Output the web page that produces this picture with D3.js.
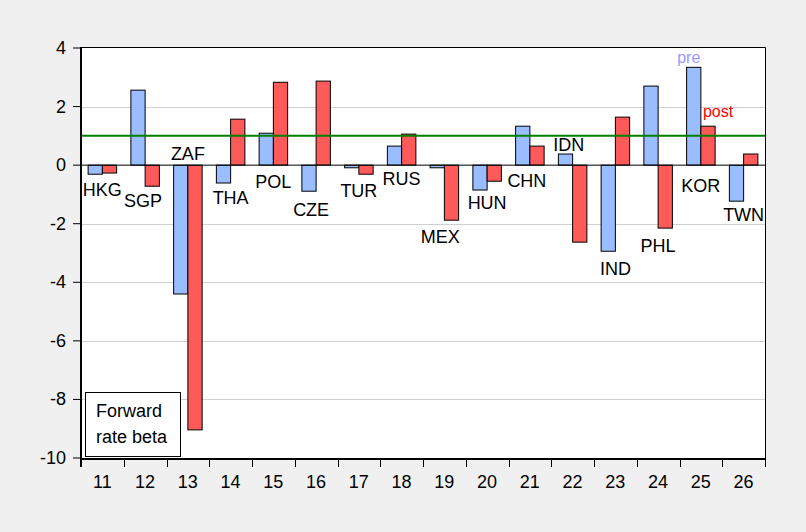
<!DOCTYPE html>
<html>
<head>
<meta charset="utf-8">
<script src="https://cdn.jsdelivr.net/npm/d3@7"></script>
<style>
  body { margin: 0; background: #f0f0f0; }
  svg { display: block; font-family: 'Liberation Sans', Arial, sans-serif; }
</style>
</head>
<body>
<div id="chart"></div>
<script>
const WIDTH = 806
const HEIGHT = 532

const periods = ['11', '12', '13', '14', '15', '16', '17', '18', '19', '20', '21', '22', '23', '24', '25', '26']
const countries = ['HKG', 'SGP', 'ZAF', 'THA', 'POL', 'CZE', 'TUR', 'RUS', 'MEX', 'HUN', 'CHN', 'IDN', 'IND', 'PHL', 'KOR', 'TWN']
const pre = [-0.31, 2.56, -4.40, -0.61, 1.09, -0.89, -0.09, 0.65, -0.09, -0.85, 1.33, 0.38, -2.94, 2.70, 3.34, -1.23]
const post = [-0.27, -0.72, -9.04, 1.57, 2.83, 2.87, -0.31, 1.06, -1.88, -0.55, 0.65, -2.63, 1.64, -2.15, 1.33, 0.38]
// where each country label sits, in value units
const labelY = [-1.05, -1.44, 0.18, -1.32, -0.78, -1.72, -1.10, -0.69, -2.65, -1.49, -0.76, 0.49, -3.76, -2.95, -0.91, -1.91]
const yTicks = [4, 2, 0, -2, -4, -6, -8, -10]
const refLine = 1

const margin = { left: 81, right: 41, top: 48, bottom: 74 }
const FONT = 18

const svg = d3.select('#chart')
  .append('svg')
  .attr('width', WIDTH)
  .attr('height', HEIGHT)

svg.append('rect')
  .attr('width', WIDTH)
  .attr('height', HEIGHT)
  .attr('fill', '#f0f0f0')

const x = d3.scaleBand()
  .domain(periods)
  .range([margin.left, WIDTH - margin.right])
const x1 = d3.scaleBand()
  .domain(['pre', 'post'])
  .range([0, x.bandwidth()])
  .paddingOuter(0.5)
const y = d3.scaleLinear()
  .domain([-10, 4])
  .range([HEIGHT - margin.bottom, margin.top])

const left = margin.left
const right = WIDTH - margin.right
const bottom = HEIGHT - margin.bottom + 1

// plot area
svg.append('rect')
  .attr('x', left)
  .attr('y', margin.top - 0.5)
  .attr('width', right - left)
  .attr('height', bottom - margin.top + 0.5)
  .attr('fill', '#fff')

svg.append('g')
  .selectAll('line')
  .data(yTicks.filter(d => d !== 0 && d !== 4 && d !== -10))
  .enter()
  .append('line')
  .attr('x1', left)
  .attr('x2', right)
  .attr('y1', d => Math.round(y(d)) + 0.5)
  .attr('y2', d => Math.round(y(d)) + 0.5)
  .attr('stroke', '#d0d0d0')

// bars
const rows = periods.map((p, i) => ({ p, i, pre: pre[i], post: post[i] }))
const colors = { pre: '#99bdff', post: '#ff5a5a' }
const gBar = svg.append('g')
rows.forEach(r => {
  ['pre', 'post'].forEach(k => {
    const v = r[k]
    gBar.append('rect')
      .attr('x', x(r.p) + x1(k))
      .attr('y', y(Math.max(0, v)))
      .attr('width', x1.bandwidth())
      .attr('height', Math.abs(y(v) - y(0)))
      .attr('fill', colors[k])
      .attr('stroke', '#000')
      .attr('stroke-width', 1)
  })
})

// zero line
svg.append('line')
  .attr('x1', left)
  .attr('x2', right)
  .attr('y1', y(0))
  .attr('y2', y(0))
  .attr('stroke', '#000')

// reference line
svg.append('line')
  .attr('x1', left)
  .attr('x2', right)
  .attr('y1', y(refLine))
  .attr('y2', y(refLine))
  .attr('stroke', '#008000')
  .attr('stroke-width', 2)

// country labels
const nudge = { SGP: -2, CZE: -5, MEX: -4, CHN: -3, IDN: -4 }
svg.append('g')
  .selectAll('text')
  .data(countries)
  .enter()
  .append('text')
  .attr('x', (d, i) => x(periods[i]) + x.bandwidth() / 2 + (nudge[d] || 0))
  .attr('y', (d, i) => y(labelY[i]))
  .attr('text-anchor', 'middle')
  .attr('font-size', FONT)
  .attr('fill', '#000')
  .text(d => d)

// pre / post labels over KOR
const korIdx = countries.indexOf('KOR')
const kor = periods[korIdx]
svg.append('text')
  .attr('x', x(kor) + x1('pre') + x1.bandwidth() / 2 - 5)
  .attr('y', y(pre[korIdx]) - 4)
  .attr('text-anchor', 'middle')
  .attr('font-size', 16)
  .attr('fill', '#9999ff')
  .text('pre')
svg.append('text')
  .attr('x', x(kor) + x1('post') + x1.bandwidth() / 2 + 10)
  .attr('y', y(post[korIdx]) - 9)
  .attr('text-anchor', 'middle')
  .attr('font-size', 16)
  .attr('fill', '#ff0000')
  .text('post')

// frame
svg.append('path')
  .attr('d', `M${left},${margin.top - 0.5}H${right + 0.5}V${bottom}`)
  .attr('fill', 'none')
  .attr('stroke', '#000')

// y axis
const yAxis = svg.append('g')
yAxis.append('line')
  .attr('x1', left)
  .attr('x2', left)
  .attr('y1', margin.top - 1)
  .attr('y2', bottom + 8)
  .attr('stroke', '#000')
  .attr('stroke-width', 2)
yAxis.selectAll('.tick')
  .data(yTicks)
  .enter()
  .append('line')
  .attr('x1', left - 8)
  .attr('x2', left)
  .attr('y1', d => y(d))
  .attr('y2', d => y(d))
  .attr('stroke', '#000')
yAxis.selectAll('text')
  .data(yTicks)
  .enter()
  .append('text')
  .attr('x', left - 15)
  .attr('y', d => y(d) + 6)
  .attr('text-anchor', 'end')
  .attr('font-size', FONT)
  .text(d => d)

// x axis
const xAxis = svg.append('g')
xAxis.append('line')
  .attr('x1', left)
  .attr('x2', right + 1)
  .attr('y1', bottom)
  .attr('y2', bottom)
  .attr('stroke', '#000')
  .attr('stroke-width', 2)
xAxis.selectAll('.tick')
  .data(periods.concat(['end']))
  .enter()
  .append('line')
  .attr('x1', (d, i) => Math.round(left + i * x.step()) + 0.5)
  .attr('x2', (d, i) => Math.round(left + i * x.step()) + 0.5)
  .attr('y1', bottom)
  .attr('y2', bottom + 8)
  .attr('stroke', '#000')
xAxis.selectAll('text')
  .data(periods)
  .enter()
  .append('text')
  .attr('x', d => x(d) + x.bandwidth() / 2)
  .attr('y', bottom + 29)
  .attr('text-anchor', 'middle')
  .attr('font-size', FONT)
  .text(d => d)

// note box
const note = svg.append('g')
note.append('rect')
  .attr('x', 85.5)
  .attr('y', 392.5)
  .attr('width', 95)
  .attr('height', 64)
  .attr('fill', '#fff')
  .attr('stroke', '#000')
note.append('text')
  .attr('x', 96)
  .attr('y', 417)
  .attr('font-size', FONT)
  .text('Forward')
note.append('text')
  .attr('x', 96)
  .attr('y', 443)
  .attr('font-size', FONT)
  .text('rate beta')
</script>
</body>
</html>
